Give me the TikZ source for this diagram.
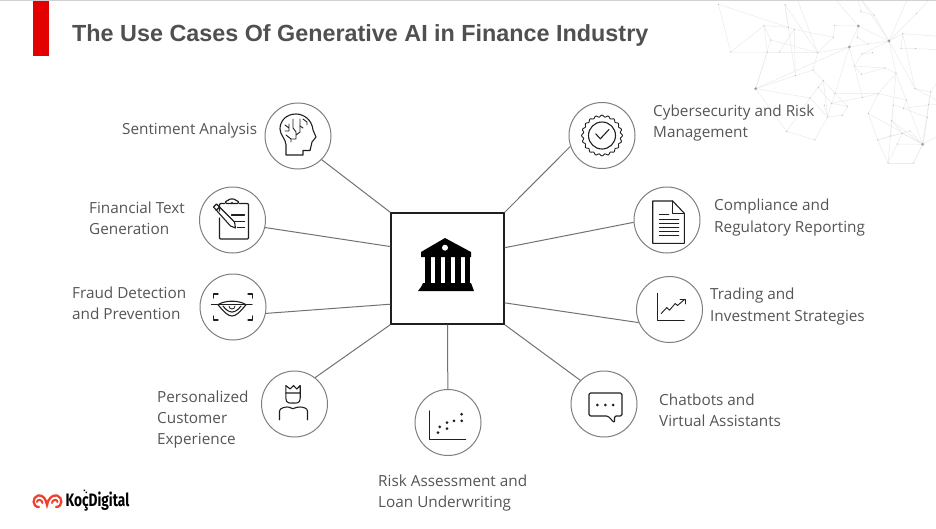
\documentclass[tikz,border=0pt]{standalone}
\usepackage{fontspec}
\setmainfont{Open Sans}
\newfontfamily\titlefont{Liberation Sans}
\newfontfamily\logofont{Fira Sans}
\usepackage{xcolor}
\usetikzlibrary{calc}
\definecolor{ink}{HTML}{555555}
\definecolor{titleink}{HTML}{505050}
\definecolor{ring}{HTML}{7F7F7F}
\definecolor{icon}{HTML}{1F1F1F}
\definecolor{brand}{HTML}{E30000}
\definecolor{logored}{HTML}{F0402F}
\definecolor{net}{HTML}{EBEBEB}
\definecolor{netdot}{HTML}{BDBDBD}
\tikzset{
  line/.style={draw=ring!90!black, line width=1pt},
  topic/.style={circle, draw=ring, fill=white, line width=1pt, minimum size=66pt, inner sep=0pt},
  hubbox/.style={rectangle, draw=icon, fill=white, line width=1.3pt, minimum width=113pt, minimum height=111pt, inner sep=0pt},
  lbl/.style={text=ink, font=\fontsize{15.3}{21.3}\selectfont, align=left, inner sep=0pt},
  ic/.style={draw=icon, line width=1.1pt, line join=round, line cap=round},
  netline/.style={draw=net, line width=0.5pt},
}
\begin{document}
\begin{tikzpicture}[x=1pt,y=-1pt]
  \useasboundingbox (0,0) rectangle (936,528);
  \fill[white] (0,0) rectangle (936,528);

  % background network
  \begin{scope}[shift={(690,0)},x=0.3333pt,y=-0.3333pt]
    \clip (-10,4) rectangle (738,520);
    \foreach \n/\x/\y in {a/85/13,b/122/156,c/222/77,d/295/82,e/285/14,f/313/88,g/242/120,h/232/156,i/268/156,
      j/383/158,k/430/112,l/434/77,m/505/78,n/478/141,o/502/112,p/534/132,q/597/123,r/638/101,s/552/45,
      t/516/162,u/493/198,v/548/158,w/585/204,x/618/220,y/515/223,z/369/210,A/316/227,B/400/242,C/197/266,
      D/360/294,E/385/262,F/435/280,G/517/292,H/565/281,I/473/319,J/425/310,K/403/316,L/413/351,M/457/346,
      N/290/394,O/374/420,P/535/340,Q/610/315,R/650/300,S/675/266,T/722/276,U/640/325,V/605/362,W/637/400,
      X/660/393,Y/698/433,Z/563/420,AA/622/432,AB/594/489,AC/671/489,AD/601/408,AE/716/313,AF/712/352,
      AG/677/146,AH/633/145,AI/680/40,AJ/513/35,
      T1/315/-20,T2/420/-20,T3/500/-20,T4/660/-20,T5/735/-20,R1/760/110,R2/760/150,R3/760/310,R4/760/220,R5/760/400}
      \coordinate (\n) at (\x,\y);
    \foreach \p/\q in {a/d,a/b,b/c,b/j,c/d,c/g,e/A,e/d,e/j,T1/j,f/A,f/k,d/f,g/j,g/C,h/C,h/c,i/f,j/k,j/n,j/z,
      k/l,l/m,m/n,m/T2,m/q,n/p,n/u,n/F,n/C,o/m,o/p,p/q,q/s,q/T3,q/T4,q/x,q/S,q/r,r/AH,r/R1,AG/R2,
      t/v,t/q,t/u,u/w,u/y,u/G,w/x,x/H,x/AD,x/Y,y/w,z/A,z/B,A/C,B/D,B/F,B/L,C/D,C/N,E/J,E/B,F/I,F/H,F/J,
      G/H,G/J,H/P,I/J,I/M,J/L,K/L,L/M,L/O,N/O,D/L,D/N,P/Y,P/Z,Q/U,Q/AB,R/U,R/H,S/T,S/R3,T/Y,T/R4,T/AE,U/AF,U/R3,
      V/W,V/Y,W/Y,W/AA,X/Y,X/Z,Y/AA,Y/AC,Y/T,Z/AD,Z/AB,AA/AB,AB/AC,AC/Y,AD/W,AE/Y,AF/Y,Y/R5,
      s/T3,AI/T5,AI/q,AJ/s,AJ/T3,r/S,AH/AG}
      \draw[netline] (\p) -- (\q);
    \foreach \n in {a,b,c,d,e,f,g,h,i,j,k,l,o,p,r,s,t,u,v,w,x,y,z,A,B,D,E,F,G,H,I,J,K,L,M,N,O,P,Q,R,S,T,U,V,W,X,Z,AA,AB,AC,AD,AE,AF,AG,AH,AI,AJ}
      \fill[netdot] (\n) circle (1.9);
    \foreach \n in {m,n,q,C,Y}
      \fill[netdot!85!black] (\n) circle (4.6);
  \end{scope}

  % header
  \fill[black!18] (0,0) rectangle (936,1);
  \fill[brand] (33,1) rectangle (49,56);
  \node[anchor=west, inner sep=0pt, text=titleink, font=\titlefont\bfseries\fontsize{23.35}{28}\selectfont] (title) at (72,35) {The Use Cases Of Generative AI in Finance Industry};

  % hub and topics
  \node[hubbox] (hub) at (447.5,268.5) {};
  \node[topic] (sentiment) at (298,136) {};
  \node[topic] (financial) at (232.5,220) {};
  \node[topic] (fraud) at (233,307) {};
  \node[topic] (personal) at (294.5,404) {};
  \node[topic] (risk) at (448,422.5) {};
  \node[topic] (chatbots) at (604,404) {};
  \node[topic] (trading) at (669.5,309.5) {};
  \node[topic] (compliance) at (667,220) {};
  \node[topic] (cyber) at (602,135.5) {};

  \draw[line] (sentiment.315) -- (hub.north west);
  \draw[line] (financial.347) -- (hub.159);
  \draw[line] (fraud.349) -- (hub.212);
  \draw[line] (personal.52) -- (hub.south west);
  \draw[line] (risk) -- (hub.south);
  \draw[line] (chatbots.135) -- (hub.south east);
  \draw[line] (trading.203) -- (hub.329);
  \draw[line] (compliance.184) -- (hub.20);
  \draw[line] (cyber.199) -- (hub.north east);

  % labels
  \node[lbl, anchor=west] (lsentiment) at (122,131) {Sentiment Analysis};
  \node[lbl, anchor=west] (lfinancial) at (89,218) {Financial Text\\Generation};
  \node[lbl, anchor=west] (lfraud) at (72,303) {Fraud Detection\\and Prevention};
  \node[lbl, anchor=west] (lpersonal) at (157,419.5) {Personalized\\Customer\\Experience};
  \node[lbl, anchor=west] (lrisk) at (378,493) {Risk Assessment and\\Loan Underwriting};
  \node[lbl, anchor=west] (lchatbots) at (659,410) {Chatbots and\\Virtual Assistants};
  \node[lbl, anchor=west] (ltrading) at (710,306.5) {Trading and\\Investment Strategies};
  \node[lbl, anchor=west] (lcompliance) at (714,217.5) {Compliance and\\Regulatory Reporting};
  \node[lbl, anchor=west] (lcyber) at (653,123) {Cybersecurity and Risk\\Management};

  % bank
  \fill[black] (445,238) -- (421,252) -- (421,257) -- (471,257) -- (471,252) -- cycle;
  \fill[white] (445,247.7) circle (3);
  \fill[black] (425,257) rectangle (431,284);
  \fill[black] (435,257) rectangle (441,284);
  \fill[black] (445,257) rectangle (451,284);
  \fill[black] (455,257) rectangle (461,284);
  \fill[black] (465,257) rectangle (470,284);
  \fill[black] (423,283) -- (471,283) -- (474,291) -- (418,291) -- (421,287) -- cycle;

  % head
  \begin{scope}[shift={(sentiment.center)}]
    \draw[ic] (-12,19) -- (5,19) -- (5,14.5) -- (12,14.5) .. controls (13,12) and (13,9) .. (14,6)
      -- (18,1) -- (15,-6) .. controls (14,-16) and (6,-22) .. (-2,-22)
      .. controls (-12,-22) and (-18,-15) .. (-18,-7) .. controls (-18,-1) and (-12,3) .. (-12,9) -- cycle;
    \draw[ic, line width=0.9pt] (-9,-12) -- (-9,-5) -- (-13,-5) (-9,-8) -- (-13,-11);
    \draw[ic, line width=0.9pt] (-5,-17) -- (-5,-8) -- (-2,-4) -- (-2,3) -- (-7,3) (-2,-1) -- (2,-4) -- (2,-17);
    \draw[ic, line width=0.9pt] (-12,-1) -- (-7,3) -- (-7,6) (2,-10) -- (5,-8);
    \draw[ic, line width=0.9pt] (5,-17) -- (9,-14) -- (9,-11);
  \end{scope}

  % clipboard
  \begin{scope}[shift={(financial.center)}]
    \draw[ic, rounded corners=1pt] (-8,-16.5) -- (-13,-16.5) -- (-13,-9) (-13,-2) -- (-13,19) -- (16,19) -- (16,-16.5) -- (7,-16.5);
    \draw[ic, rounded corners=1pt] (-7,-16.5) -- (-7,-19) -- (-5,-19) -- (-3,-21) -- (2,-21) -- (4,-19) -- (6,-19) -- (6,-16.5) -- cycle;
    \fill[icon] (-0.5,-17) circle (1.2);
    \draw[ic] (-19,-13) -- (-16,-16) -- (2,2) -- (3,8) -- (-2,6) -- cycle (-16.5,-9.5) -- (-13,-13);
    \draw[ic] (-1,-5) -- (12,-5) (2,1.5) -- (12,1.5) (5,7.5) -- (12,7.5);
  \end{scope}

  % eye
  \begin{scope}[shift={(fraud.center)}]
    \draw[ic] (-19.5,-9) -- (-19.5,-13) -- (-15,-13) (15,-13) -- (19.5,-13) -- (19.5,-9)
      (-19.5,9) -- (-19.5,13) -- (-15,13) (15,13) -- (19.5,13) -- (19.5,9);
    \draw[ic] (-21.5,-2.3) -- (19,-2.3);
    \draw[ic] (-15,-2.3) .. controls (-8,-7) and (6,-7) .. (13,-2.3);
    \draw[ic] (-15,-2.3) .. controls (-9,5) and (-5,9) .. (-1,9) .. controls (3,9) and (7,5) .. (13,-2.3);
    \draw[ic] (-10,-1) .. controls (-7,3) and (-4,5) .. (-1,5) .. controls (2,5) and (5,3) .. (8,-1);
    \draw[ic, line width=0.8pt] (-4,-1) .. controls (-4,3) and (2,3) .. (2,-1);
  \end{scope}

  % person with crown
  \begin{scope}[shift={(personal.center)}]
    \draw[ic] (-8.7,-11) -- (-8.7,-18.5) -- (-4.3,-15) -- (-1,-18.5) -- (2.3,-15) -- (5.7,-18.5) -- (5.7,-11) -- cycle;
    \draw[ic] (-8.7,-11) -- (-8.7,-6) .. controls (-8.7,0) and (-4,-1) .. (-1.7,-1) .. controls (2,-1) and (5.7,0) .. (5.7,-6) -- (5.7,-11);
    \draw[ic] (-15,15.7) -- (-15,7) .. controls (-15,4) and (-9,3) .. (-7.5,3) .. controls (-4,3) and (-3,4.7) .. (-1.7,4.7)
      .. controls (-0.5,4.7) and (1,3) .. (5.7,3) .. controls (8,3) and (13,4) .. (13,7) -- (13,15.7);
  \end{scope}

  % scatter chart
  \begin{scope}[shift={(risk.center)}]
    \draw[ic] (-18.3,-11.7) -- (-18.3,16.7) -- (17.7,16.7);
    \foreach \px/\py in {-10/10,-8.3/4.3,-1/0,-1/6,6/-1.7,13.7/-8.3,13.7/-1.7}
      \fill[icon] (\px,\py) circle (1.5);
  \end{scope}

  % chat bubble
  \begin{scope}[shift={(chatbots.center)}]
    \draw[ic, rounded corners=1.5pt] (-15,-11) -- (18,-11) -- (18,12) -- (10.5,12) -- (10.5,19) -- (4,12) -- (-15,12) -- cycle;
    \foreach \px in {-6.7,1.3,9}
      \fill[icon] (\px,1) circle (1.5);
  \end{scope}

  % growth chart
  \begin{scope}[shift={(trading.center)}]
    \draw[ic] (-12,-16) -- (-12,10.7) -- (14.7,10.7);
    \draw[ic, line width=0.9pt] (-8.3,4) -- (-2.7,-2) -- (0,0.7) -- (5.7,-6) -- (8,-4) -- (15,-10);
    \draw[ic, line width=0.9pt] (10.5,-10.3) -- (15.5,-10.3) -- (15.5,-5.5);
  \end{scope}

  % document
  \begin{scope}[shift={(compliance.center)}]
    \draw[ic] (-14.3,-19) -- (5.7,-19) -- (17.3,-6.7) -- (17.3,23.3) -- (-14.3,23.3) -- cycle;
    \draw[ic] (5.7,-19) -- (5.7,-6.7) -- (17.3,-6.7);
    \draw[ic] (-7.7,-5.7) -- (1.7,-5.7);
    \foreach \py in {-0.5,3.5,7.5,11.5,15.5}
      \draw[ic] (-7.7,\py) -- (11.7,\py);
  \end{scope}

  % badge
  \begin{scope}[shift={(cyber.center)}]
    \draw[ic, line width=0.9pt, smooth, samples=161, domain=0:360] plot ({(19.5+0.9*cos(20*\x))*cos(\x)},{(19.5+0.9*cos(20*\x))*sin(\x)}) -- cycle;
    \draw[ic] (0,0) circle (13.5);
    \draw[ic] (-6.3,-1.7) -- (-1.7,3.3) -- (7,-6);
  \end{scope}

  % logo
  \begin{scope}[shift={(32,494)}]
    \draw[logored, line width=2.3pt, line cap=round] (7,13) .. controls (0,13) and (0,3) .. (6,1.5) .. controls (11,0.5) and (14,5) .. (15,11)
      .. controls (16,5) and (20,0.5) .. (25,1.5) .. controls (31,3) and (31,13) .. (24,13);
    \draw[logored, line width=2pt, line cap=round] (5,8) .. controls (5,5) and (10,5) .. (10.5,9) (25.5,8) .. controls (25.5,5) and (20.5,5) .. (20,9);
  \end{scope}
  \node[anchor=west, inner sep=0pt, text=black, xscale=0.76, font=\logofont\bfseries\fontsize{18}{20}\selectfont] (logo) at (65.5,502) {KoçDigital};
  \fill[black] (83.5,489.5) rectangle (85,491) (85.5,491.5) rectangle (87,493);
\end{tikzpicture}
\end{document}
